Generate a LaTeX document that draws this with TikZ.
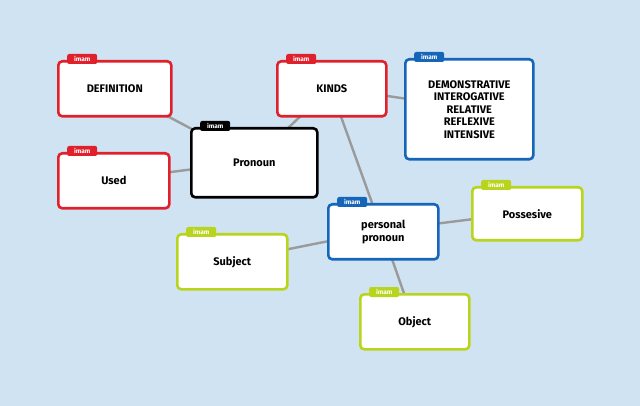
\documentclass[tikz,border=0pt]{standalone}
\usepackage{fontspec}
\setmainfont{Fira Sans}
\begin{document}
\definecolor{bg}{HTML}{CFE3F3}
\definecolor{cred}{HTML}{E0202A}
\definecolor{cblue}{HTML}{1565B8}
\definecolor{clime}{HTML}{B8D41C}
\definecolor{cline}{HTML}{9A9A9A}
\begin{tikzpicture}[x=1pt,y=-1pt,
  box/.style={draw=#1,line width=2.6pt,fill=white,rounded corners=4pt,font=\bfseries\fontsize{11}{12.5}\selectfont,align=center,inner sep=0pt},
  tag/.style={fill=#1,text=white,rounded corners=2pt,font=\bfseries\fontsize{6.5}{6.5}\selectfont,inner sep=1.5pt,minimum width=30pt,minimum height=10pt},
  conn/.style={draw=cline,line width=2.4pt}]
\fill[bg] (0,0) rectangle (640,406);
\useasboundingbox (0,0) rectangle (640,406);
\coordinate (d) at (113.5,87.5);
\coordinate (u) at (112.5,179.5);
\coordinate (p) at (253,161.5);
\coordinate (k) at (330.5,87.5);
\coordinate (m) at (468,108);
\coordinate (pp) at (382,230.5);
\coordinate (po) at (526,212.5);
\coordinate (s) at (231,260.5);
\coordinate (o) at (413.5,320.5);
\draw[conn] (d)--(p) (u)--(p) (p)--(k) (k)--(m) (k)--(pp) (pp)--(po) (pp)--(s) (pp)--(o);
\foreach \n/\c/\x/\y/\w/\h/\t in {
 nd/cred/57/60/113/55/DEFINITION,
 nu/cred/57/152/111/55/Used,
 np/black/190/127/126/69/Pronoun,
 nk/cred/276/60/109/55/KINDS,
 nm/cblue/404/58/128/100/{DEMONSTRATIVE\\INTEROGATIVE\\RELATIVE\\REFLEXIVE\\INTENSIVE},
 npp/cblue/327/203/110/55/{personal\\pronoun},
 npo/clime/471/186/110/53/Possesive,
 ns/clime/176/233/110/55/Subject,
 no/clime/359/293/109/55/Object}{
 \node[box=\c,minimum width=\w pt,minimum height=\h pt,anchor=north west] (\n) at (\x,\y) {\t};
 \node[tag=\c,anchor=west] (\n t) at (\x+10,\y-1) {imam};
}
\end{tikzpicture}
\end{document}
